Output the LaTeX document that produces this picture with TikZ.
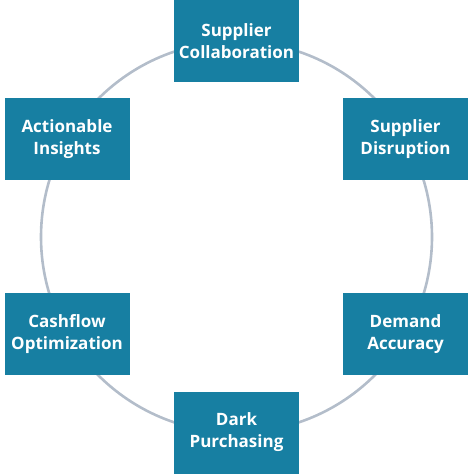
\documentclass[tikz,border=0pt]{standalone}
\usepackage{fontspec}
\setmainfont{Open Sans}
\definecolor{boxteal}{HTML}{177FA2}
\definecolor{ringgray}{HTML}{B3BDCA}
\begin{document}
\begin{tikzpicture}[x=1pt,y=-1pt,
  stage/.style={fill=boxteal, draw=none, minimum width=125pt, minimum height=82pt,
    text=white, align=center, font=\fontsize{17pt}{22pt}\selectfont\bfseries, inner sep=0pt},
  ring/.style={draw=ringgray, line width=2.6pt}]
\useasboundingbox (0,0) rectangle (474,474);
\coordinate (c) at (236.5,237);
\draw[ring] (c) circle[radius=195.5pt];
\node[stage] (sc) at (236.5,41) {Supplier\\Collaboration};
\node[stage] (sd) at (405.5,139) {Supplier\\Disruption};
\node[stage] (da) at (405.5,334) {Demand\\Accuracy};
\node[stage] (dp) at (236.5,432.5) {Dark\\Purchasing};
\node[stage] (co) at (67,334) {Cashflow\\Optimization};
\node[stage] (ai) at (67,139) {Actionable\\Insights};
\end{tikzpicture}
\end{document}
